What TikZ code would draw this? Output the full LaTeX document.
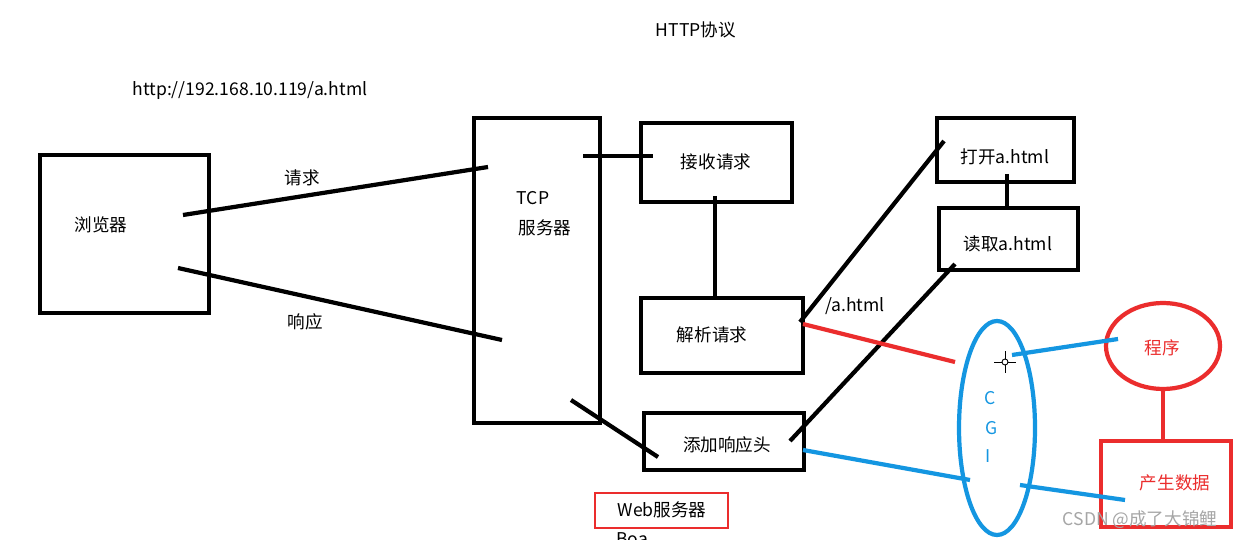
\documentclass[tikz,border=0pt]{standalone}
\usepackage{fontspec}
\setmainfont{Noto Sans CJK SC}
\definecolor{rr}{RGB}{235,45,45}
\definecolor{bb}{RGB}{20,150,225}
\begin{document}
\begin{tikzpicture}[x=0.02cm,y=-0.02cm,
  bx/.style={draw=black,line width=2.4pt},
  rbx/.style={draw=rr,line width=2.4pt},
  bl/.style={draw=black,line width=2.4pt},
  blu/.style={draw=bb,line width=2.4pt},
  t/.style={font=\fontsize{10}{12}\selectfont,inner sep=0pt}]
\useasboundingbox (0,0) rectangle (1243,540);
\fill[white] (0,0) rectangle (1243,540);
\node[t] (title) at (696,30) {HTTP协议};
\node[t] (url) at (250,91) {http://192.168.10.119/a.html};
\draw[bx] (40,155) rectangle (209,313); \node[t] (br) at (101,225) {浏览器};
\draw[bx] (474,118) rectangle (600,423);
\node[t] (tcp) at (533,198) {TCP}; \node[t] (srv) at (545,228) {服务器};
\draw[bx] (641,123) rectangle (792,202); \node[t] (rcv) at (716,162) {接收请求};
\draw[bx] (641,298) rectangle (803,373); \node[t] (prs) at (712,335) {解析请求};
\draw[bx] (644,413) rectangle (804,470); \node[t] (add) at (727,445) {添加响应头};
\draw[bx] (937,118) rectangle (1074,182); \node[t] (open) at (1005,157) {打开a.html};
\draw[bx] (939,208) rectangle (1078,270); \node[t] (read) at (1008,244) {读取a.html};
\draw[blu] (997,428) ellipse [x radius=38,y radius=107];
\node[t,text=bb] (c) at (990,398) {C};
\node[t,text=bb] (g) at (992,428) {G};
\node[t,text=bb] (i) at (988,456) {I};
\draw[rbx] (1163,346) ellipse [x radius=57,y radius=43];
\node[t,text=rr] (prog) at (1162,348) {程序};
\draw[rbx] (1101,441) rectangle (1231,527);
\node[t,text=rr] (data) at (1175,483) {产生数据};
\draw[draw=rr,line width=1.4pt] (595,493) rectangle (728,528);
\node[t] (web) at (662,510) {Web服务器};
\node[t,anchor=north] (boa) at (632,532) {Boa};
\node[t,text=gray!70] (wm) at (1140,520) {CSDN @成了大锦鲤};
% black connectors
\draw[bl] (183,215) -- (488,167);
\node[t] (req) at (302,178) {请求};
\draw[bl] (178,268) -- (502,340);
\node[t] (resp) at (305,322) {响应};
\draw[bl] (583,156) -- (653,156);
\draw[bl] (715,196) -- (715,298);
\draw[bl] (800,322) -- (944,141);
\node[t] (ah) at (855,306) {/a.html};
\draw[bl] (1007,174) -- (1007,210);
\draw[bl] (790,441) -- (955,264);
\draw[bl] (571,400) -- (658,457);
% red / blue
\draw[draw=rr,line width=2.4pt] (803,324) -- (955,362);
\draw[blu] (1012,355) -- (1118,339);
\draw[blu] (803,450) -- (970,480);
\draw[blu] (1020,485) -- (1125,500);
\draw[rbx] (1163,389) -- (1163,441);
% cursor
\draw[line width=0.5pt] (994,362) -- (1016,362) (1005,351) -- (1005,373);
\draw[line width=0.5pt,fill=white] (1005,362) circle (3);
\end{tikzpicture}
\end{document}
